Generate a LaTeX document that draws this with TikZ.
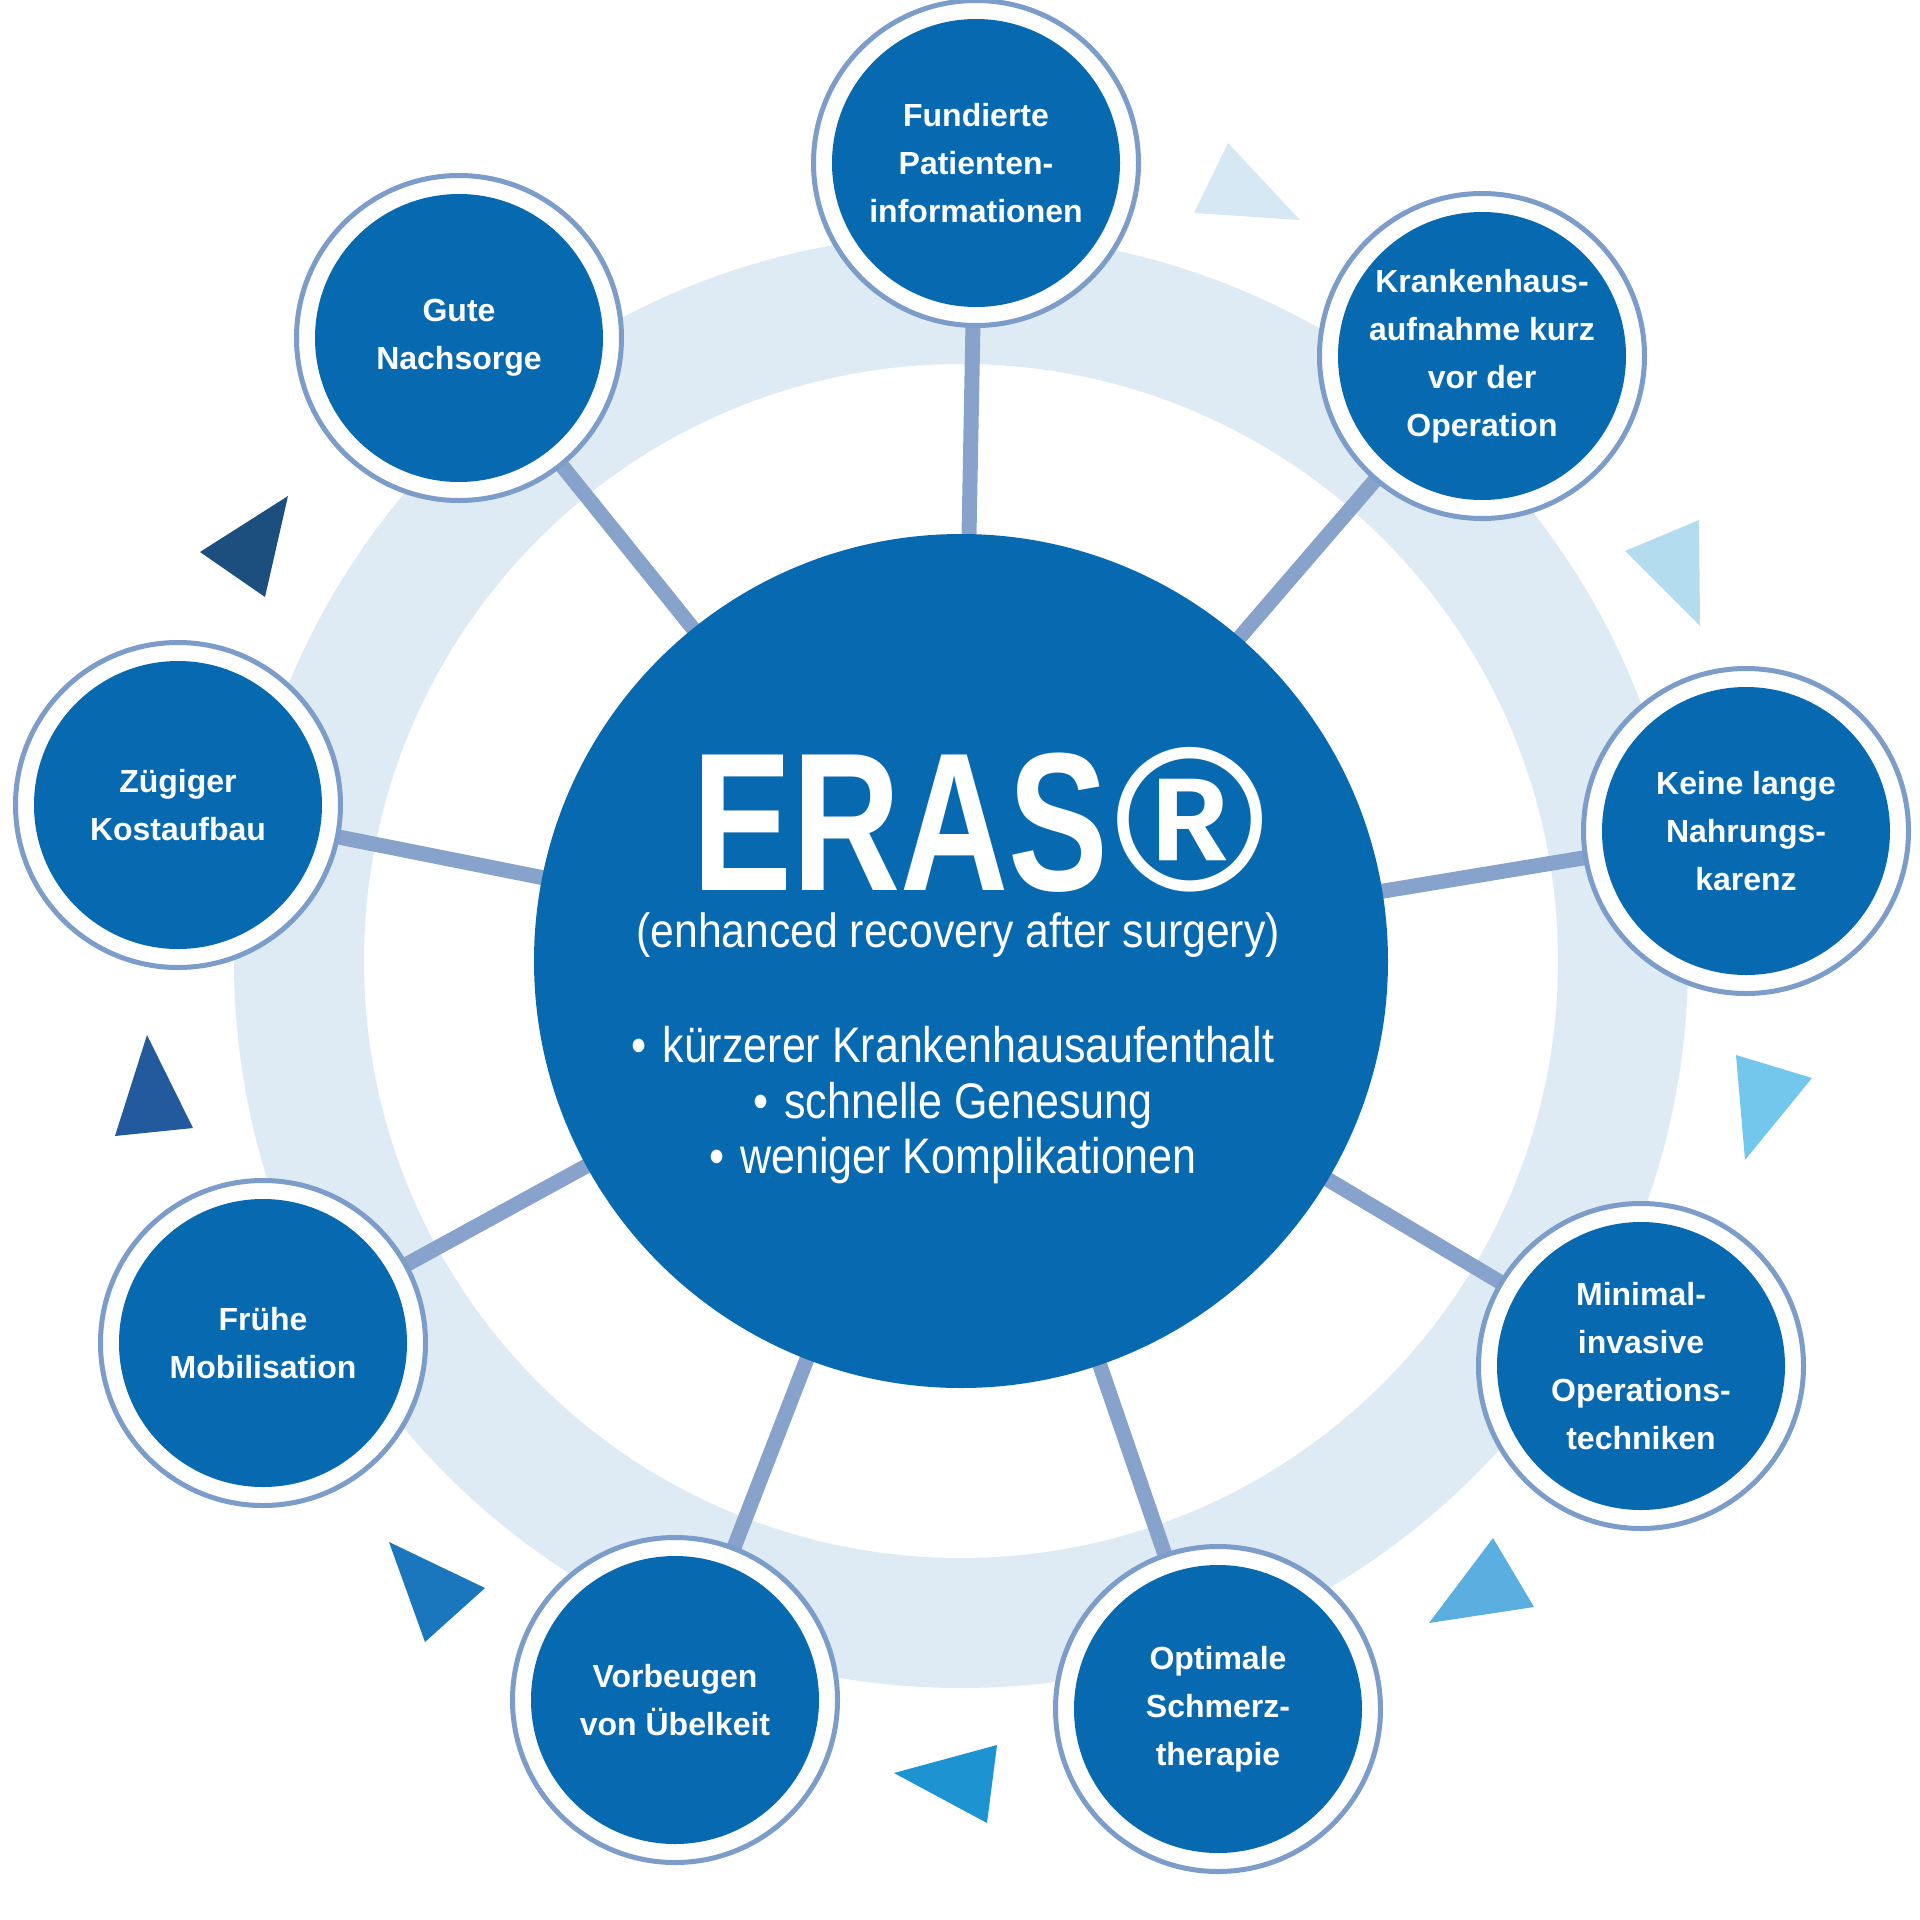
\documentclass[tikz,border=0pt]{standalone}
\usepackage{fontspec}
\setmainfont{Liberation Sans}
\newfontfamily\erasfont[FakeStretch=0.76]{Liberation Sans}
\newfontfamily\condfont[FakeStretch=0.86]{Liberation Sans}
\newfontfamily\subfont[FakeStretch=0.89]{Liberation Sans}
\definecolor{mainblue}{HTML}{0769B0}
\definecolor{ringlight}{HTML}{DEEBF5}
\definecolor{connc}{HTML}{87A3CB}
\definecolor{ringc}{HTML}{7C9CC9}
\definecolor{tA}{HTML}{D6E8F3}
\definecolor{tB}{HTML}{B3DCEE}
\definecolor{tC}{HTML}{74C7EC}
\definecolor{tD}{HTML}{5AAFE0}
\definecolor{tE}{HTML}{1E93D2}
\definecolor{tF}{HTML}{1A76BD}
\definecolor{tG}{HTML}{235A9E}
\definecolor{tH}{HTML}{1C4F7D}
\pgfdeclarelayer{bg}
\pgfsetlayers{bg,main}
\tikzset{
  sat/.style={circle, minimum size=325pt, inner sep=0pt, fill=white, draw=ringc, line width=5pt,
    path picture={\fill[mainblue] (path picture bounding box.center) circle[radius=144pt];},
    text=white, align=center, font=\fontsize{32}{48}\selectfont\bfseries},
  hub/.style={circle, minimum size=854pt, inner sep=0pt, fill=mainblue},
  conn/.style={draw=connc, line width=15pt},
  wtext/.style={text=white, inner sep=0pt},
}
\begin{document}
\begin{tikzpicture}[x=1pt,y=-1pt]
\useasboundingbox (0,0) rectangle (1920,1920);
% hub
\node[hub] (hub) at (961,961) {};
% satellites
\node[sat] (s1) at (976,163) {Fundierte\\Patienten-\\informationen};
\node[sat] (s2) at (1482,356) {Krankenhaus-\\aufnahme kurz\\vor der\\Operation};
\node[sat] (s3) at (1746,831) {Keine lange\\Nahrungs-\\karenz};
\node[sat] (s4) at (1641,1366) {Minimal-\\invasive\\Operations-\\techniken};
\node[sat] (s5) at (1218,1709) {Optimale\\Schmerz-\\therapie};
\node[sat] (s6) at (675,1700) {Vorbeugen\\von Übelkeit};
\node[sat] (s7) at (263,1343) {Frühe\\Mobilisation};
\node[sat] (s8) at (178,805) {Zügiger\\Kostaufbau};
\node[sat] (s9) at (459,338) {Gute\\Nachsorge};
% background ring and connectors
\begin{pgfonlayer}{bg}
  \fill[ringlight, even odd rule] (hub.center) circle[radius=727pt] (hub.center) circle[radius=597pt];
  \foreach \s in {s1,s2,s3,s4,s5,s6,s7,s8,s9}{
    \draw[conn] (hub.center) -- (\s.center);
  }
\end{pgfonlayer}
% centre texts
\node[wtext, anchor=base west, text depth=0pt] (title) at (692,890) {\erasfont\bfseries\fontsize{197}{200}\selectfont ERAS};
\node[wtext, anchor=base west, text depth=0pt] (reg) at (1114,890) {\bfseries\fontsize{205}{205}\selectfont ®};
\node[wtext, anchor=base] (sub) at (958,947) {\subfont\fontsize{48}{50}\selectfont (enhanced recovery after surgery)};
\node[wtext, anchor=base] (b1) at (953,1062) {\condfont\fontsize{50}{56}\selectfont •\hspace{16pt}kürzerer Krankenhausaufenthalt};
\node[wtext, anchor=base] (b2) at (953,1118) {\condfont\fontsize{50}{56}\selectfont •\hspace{16pt}schnelle Genesung};
\node[wtext, anchor=base] (b3) at (953,1173) {\condfont\fontsize{50}{56}\selectfont •\hspace{16pt}weniger Komplikationen};
% triangles
\fill[tA] (1228,143) -- (1300,220) -- (1194,213) -- cycle;
\fill[tB] (1699,520) -- (1700,626) -- (1625,551) -- cycle;
\fill[tC] (1736,1055) -- (1812,1078) -- (1745,1160) -- cycle;
\fill[tD] (1493,1538) -- (1534,1607) -- (1429,1623) -- cycle;
\fill[tE] (894,1773) -- (997,1745) -- (987,1823) -- cycle;
\fill[tF] (389,1542) -- (485,1588) -- (425,1642) -- cycle;
\fill[tG] (147,1035) -- (193,1128) -- (115,1136) -- cycle;
\fill[tH] (288,496) -- (265,597) -- (200,552) -- cycle;
\end{tikzpicture}
\end{document}
